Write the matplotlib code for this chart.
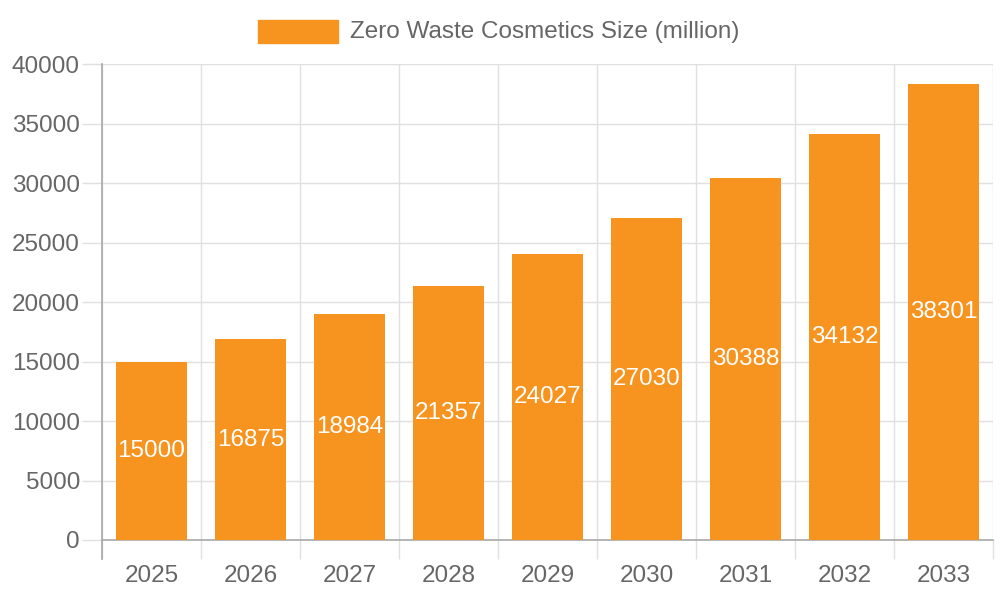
import matplotlib.pyplot as plt
from matplotlib.patches import Rectangle
from matplotlib.ticker import FixedLocator

years = ['2025', '2026', '2027', '2028', '2029', '2030', '2031', '2032', '2033']
sizes = [15000, 16875, 18984, 21357, 24027, 27030, 30388, 34132, 38301]
series_name = 'Zero Waste Cosmetics Size (million)'

bar_color = '#F7941F'
text_color = '#666666'
grid_color = '#E0E0E0'
axis_color = '#A8A8A8'

plt.rcParams['font.family'] = ['Liberation Sans', 'DejaVu Sans']

fig = plt.figure(figsize=(10, 6), dpi=100)
ax = fig.add_axes([0.102, 0.1, 0.891, 0.7933])

x = list(range(len(years)))
ax.bar(x, sizes, width=0.72, color=bar_color, zorder=3)
for xi, v in zip(x, sizes):
    ax.text(xi, v / 2, str(v), ha='center', va='center', color='white',
            fontsize=17.5, zorder=4)

ax.set_xlim(-0.5, len(years) - 0.5)
ax.set_ylim(0, 40000)
ax.set_yticks(range(0, 40001, 5000))
ax.tick_params(axis='y', labelsize=17.5, labelcolor=text_color, length=14.4,
               width=1, color=grid_color, pad=1.5)
ax.set_xticks(x)
ax.set_xticklabels(years)
ax.tick_params(axis='x', which='major', length=0, labelsize=17.5,
               labelcolor=text_color, pad=18)
ax.xaxis.set_minor_locator(FixedLocator([i - 0.5 for i in range(len(years) + 1)]))
ax.tick_params(axis='x', which='minor', length=14, color=grid_color, width=1)

ax.grid(True, axis='y', color=grid_color, linewidth=1, zorder=0)
ax.grid(True, axis='x', which='minor', color=grid_color, linewidth=1, zorder=0)
ax.grid(False, axis='x', which='major')

for s in ['top', 'right']:
    ax.spines[s].set_visible(False)
for s in ['left', 'bottom']:
    ax.spines[s].set_color(axis_color)
    ax.spines[s].set_linewidth(1.2)
# left axis line runs a little below zero, like the reference
ax.spines['left'].set_bounds(-40000 * 19 / 476, 40000)
ax.spines['left'].set_clip_on(False)

# legend drawn at top centre
fig.patches.append(Rectangle((0.258, 1 - 43 / 600), 0.08, 23 / 600,
                             transform=fig.transFigure, color=bar_color))
fig.text(0.350, 1 - 32 / 600, series_name, ha='left', va='center',
         fontsize=17.5, color=text_color)

fig.savefig('out.png', dpi=100)
